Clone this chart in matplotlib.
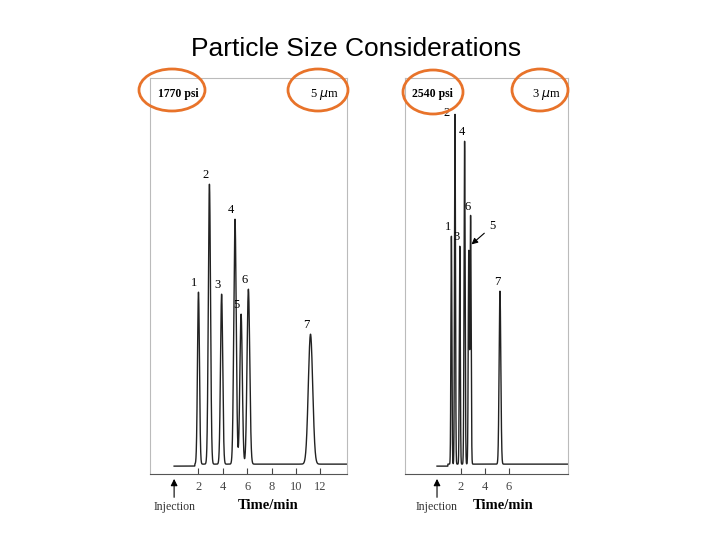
import numpy as np
import matplotlib.pyplot as plt
from matplotlib.patches import Ellipse

# peak data (time in min, height in arbitrary px units)
left_times = [2.0, 2.9, 3.9, 5.0, 5.5, 6.1, 11.2]
left_heights = [172, 280, 170, 245, 150, 175, 130]
left_widths = [0.08, 0.09, 0.09, 0.1, 0.1, 0.11, 0.18]

right_times = [1.2, 1.5, 1.9, 2.3, 2.65, 2.8, 5.25]
right_heights = [228, 350, 218, 323, 213, 248, 173]
right_widths = [0.04, 0.04, 0.04, 0.045, 0.045, 0.045, 0.07]

peak_names = ["1", "2", "3", "4", "5", "6", "7"]


def trace(t, times, heights, widths):
	y = np.zeros_like(t)
	for tc, h, w in zip(times, heights, widths):
		y += h * np.exp(-0.5 * ((t - tc) / w) ** 2)
	return y


fig = plt.figure(figsize=(7.2, 5.4), dpi=100)
fig.text(0.495, 0.91, "Particle Size Considerations", ha="center", va="center",
	fontsize=19, family="Liberation Sans")

panels = [
	(0.208, 0.274, (-2.0, 14.2), [2, 4, 6, 8, 10, 12], left_times, left_heights, left_widths,
	 "1770 psi", "5 $\\mu$m"),
	(0.5625, 0.226, (-2.67, 10.9), [2, 4, 6], right_times, right_heights, right_widths,
	 "2540 psi", "3 $\\mu$m"),
]

for i, (x0, w, xlim, ticks, times, heights, widths, psi, size) in enumerate(panels):
	ax = fig.add_axes([x0, 0.122, w, 0.733])
	t = np.linspace(0.0, xlim[1], 4000)
	y = trace(t, times, heights, widths)
	y[t < times[0] - 0.3] -= 2
	ax.plot(t, y, color="#222222", lw=1.0)
	ax.set_xlim(*xlim)
	ax.set_ylim(-10, 386)
	ax.set_yticks([])
	ax.set_xticks(ticks)
	ax.tick_params(axis="x", direction="in", length=4, labelsize=9, pad=5, colors="#444444")
	for lab in ax.get_xticklabels():
		lab.set_family("Liberation Serif")
	for s in ["left", "right", "top"]:
		ax.spines[s].set_color("#bbbbbb")
		ax.spines[s].set_linewidth(0.8)
	ax.spines["bottom"].set_color("#555555")

	for k, (tc, h, nm) in enumerate(zip(times, heights, peak_names)):
		if i == 1 and nm == "5":
			ax.annotate(nm, xy=(tc + 0.05, h + 5), xytext=(tc + 1.7, h + 22),
				fontsize=9, family="Liberation Serif",
				arrowprops=dict(arrowstyle="-|>", color="black", lw=0.8))
			continue
		dx = -0.35 if i == 0 else -0.25
		if i == 1 and nm == "2":
			dx = -0.7
			h = h - 8
		ax.text(tc + dx, h + 6, nm, fontsize=9, family="Liberation Serif", ha="center")

	ax.annotate("", xy=(0, -12), xytext=(0, -36), annotation_clip=False,
		arrowprops=dict(arrowstyle="-|>", color="black", lw=0.8))
	ax.text(0, -43, "Injection", ha="center", va="center", fontsize=8.5,
		family="Liberation Serif", color="#333333")
	ax.text(0.6, -0.08, "Time/min", transform=ax.transAxes, ha="center", va="center",
		fontsize=10.5, fontweight="bold", family="Liberation Serif")
	ax.text(0.04, 0.96, psi, transform=ax.transAxes, fontsize=8.5, fontweight="bold",
		family="Liberation Serif", va="center")
	ax.text(0.96, 0.96, size, transform=ax.transAxes, fontsize=9, ha="right",
		family="Liberation Serif", va="center")

ellipses = [(172, 90, 66, 42), (318, 90, 60, 42), (433, 92, 60, 44), (540, 90, 56, 42)]
for cx, cy, ew, eh in ellipses:
	fig.add_artist(Ellipse((cx / 720, 1 - cy / 540), ew / 720, eh / 540,
		transform=fig.transFigure, fill=False, ec="#e8732a", lw=2))

fig.savefig("out.png", dpi=100)
